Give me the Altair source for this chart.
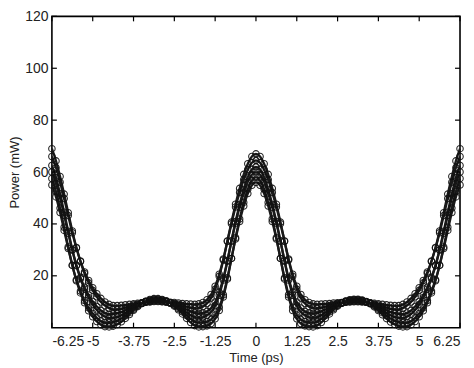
import altair as alt
import numpy as np
import pandas as pd

# sampling grid of the time axis (ps)
time_ps = np.linspace(-6.25, 6.25, 101)

x_ticks = [-6.25, -5, -3.75, -2.5, -1.25, 0, 1.25, 2.5, 3.75, 5, 6.25]
y_ticks = [20, 40, 60, 80, 100, 120]

# power traces (mW); left half x=-6.25..-0.125, right half x=0..6.25
A_left = [57.5, 52.5, 46.1, 38.7, 31.1, 24.1, 18.1, 13.4, 9.6, 6.5, 4.2, 2.4, 1.1, 0.4, 0.3,
          0.6, 1.2, 2.3, 3.6, 5.1, 6.7, 8.1, 9.3, 10.2, 10.9, 11.2, 11.2, 10.9, 10.4, 9.5, 8.3, 6.9, 5.3, 3.6, 2.0, 0.8,
          0.3, 0.4, 0.7, 1.6, 3.4, 6.6, 11.8, 18.7, 26.7, 34.7, 41.9, 48.3, 53.4, 56.8]
A_right = [58.0, 56.8, 53.4, 48.3, 41.9, 34.7, 26.7, 18.7, 11.8, 6.6, 3.4, 1.6, 0.7, 0.4, 0.3,
           0.8, 2.0, 3.6, 5.3, 6.9, 8.3, 9.4, 10.3, 10.8, 11.0, 11.0, 10.7, 10.1, 9.2, 8.0, 6.6, 5.0, 3.5, 2.2, 1.2, 0.6,
           0.3, 0.4, 1.1, 2.4, 4.2, 6.5, 9.6, 13.4, 18.1, 24.1, 31.1, 38.7, 46.1, 52.5, 57.5]

B_left = [55.0, 50.4, 44.4, 37.5, 30.5, 24.0, 18.5, 14.1, 10.5, 7.7, 5.5, 3.8, 2.6, 2.0, 1.9,
          2.2, 2.7, 3.5, 4.6, 5.8, 7.1, 8.3, 9.3, 10.1, 10.6, 10.9, 10.9, 10.7, 10.2, 9.5, 8.6, 7.4, 6.1, 4.7, 3.4, 2.4,
          2.0, 2.1, 2.4, 3.2, 4.9, 7.9, 12.7, 19.2, 26.7, 34.2, 40.9, 46.9, 51.7, 54.9]
B_right = [56.0, 54.9, 51.7, 46.9, 40.9, 34.2, 26.7, 19.2, 12.7, 7.9, 4.9, 3.2, 2.4, 2.1, 2.0,
           2.4, 3.4, 4.7, 6.1, 7.4, 8.6, 9.5, 10.2, 10.6, 10.8, 10.8, 10.5, 10.0, 9.3, 8.3, 7.1, 5.8, 4.6, 3.5, 2.7, 2.2,
           1.9, 2.0, 2.6, 3.8, 5.5, 7.7, 10.5, 14.1, 18.5, 24.0, 30.5, 37.5, 44.4, 50.4, 55.0]

C_left = [62.5, 57.8, 51.6, 44.5, 37.2, 30.1, 23.9, 18.9, 14.8, 11.6, 8.9, 6.8, 5.2, 4.2, 3.6,
          3.8, 4.1, 4.8, 5.6, 6.6, 7.6, 8.6, 9.4, 10.1, 10.5, 10.7, 10.7, 10.5, 10.1, 9.5, 8.8, 7.9, 6.9, 5.8, 4.8, 4.1,
          3.8, 4.0, 4.7, 6.0, 8.5, 12.5, 18.4, 25.6, 33.5, 40.9, 47.5, 53.3, 58.0, 61.0]
C_right = [62.0, 61.0, 58.0, 53.3, 47.5, 40.9, 33.5, 25.6, 18.4, 12.5, 8.5, 6.0, 4.7, 4.0, 3.8,
           4.1, 4.8, 5.8, 6.9, 7.9, 8.8, 9.5, 10.1, 10.4, 10.6, 10.6, 10.4, 10.0, 9.4, 8.6, 7.6, 6.6, 5.6, 4.8, 4.1, 3.8,
           3.6, 4.2, 5.2, 6.8, 8.9, 11.6, 14.8, 18.9, 23.9, 30.1, 37.2, 44.5, 51.6, 57.8, 62.5]

D_left = [60.0, 55.6, 49.9, 43.3, 36.4, 29.9, 24.1, 19.4, 15.6, 12.6, 10.1, 8.2, 6.7, 5.7, 5.2,
          5.3, 5.6, 6.0, 6.7, 7.4, 8.2, 8.8, 9.4, 9.9, 10.2, 10.5, 10.5, 10.3, 10.0, 9.6, 9.1, 8.5, 7.7, 7.0, 6.3, 5.7,
          5.5, 5.7, 6.3, 7.6, 9.9, 13.7, 19.1, 25.9, 33.3, 40.3, 46.4, 51.9, 56.2, 59.0]
D_right = [60.0, 59.0, 56.2, 51.9, 46.4, 40.3, 33.3, 25.9, 19.1, 13.7, 9.9, 7.6, 6.3, 5.7, 5.5,
           5.7, 6.3, 7.0, 7.7, 8.5, 9.1, 9.6, 10.0, 10.3, 10.4, 10.4, 10.2, 9.9, 9.4, 8.8, 8.2, 7.4, 6.7, 6.0, 5.6, 5.3,
           5.2, 5.7, 6.7, 8.2, 10.1, 12.6, 15.6, 19.4, 24.1, 29.9, 36.4, 43.3, 49.9, 55.6, 60.0]

E_left = [69.0, 64.3, 58.3, 51.5, 44.3, 37.3, 30.9, 25.5, 20.9, 17.3, 14.4, 11.9, 9.9, 8.5, 7.5,
          6.9, 7.0, 7.3, 7.7, 8.2, 8.7, 9.1, 9.5, 9.9, 10.1, 10.3, 10.3, 10.1, 9.9, 9.6, 9.3, 9.0, 8.5, 8.1, 7.7, 7.4,
          7.5, 8.1, 9.3, 11.4, 14.8, 19.8, 26.1, 33.4, 40.7, 47.6, 53.7, 59.1, 63.2, 66.0]
E_right = [67.0, 66.0, 63.2, 59.1, 53.7, 47.6, 40.7, 33.4, 26.1, 19.8, 14.8, 11.4, 9.3, 8.1, 7.5,
           7.4, 7.7, 8.1, 8.5, 9.0, 9.3, 9.6, 9.9, 10.1, 10.2, 10.2, 10.1, 9.9, 9.5, 9.1, 8.7, 8.2, 7.7, 7.3, 7.0, 6.9,
           7.5, 8.5, 9.9, 11.9, 14.4, 17.3, 20.9, 25.5, 30.9, 37.3, 44.3, 51.5, 58.3, 64.3, 69.0]

F_left = [66.0, 61.7, 56.1, 49.8, 43.2, 36.6, 30.7, 25.7, 21.5, 18.2, 15.4, 13.1, 11.3, 9.9, 9.0,
          8.5, 8.5, 8.6, 8.8, 9.0, 9.2, 9.4, 9.6, 9.8, 9.9, 10.1, 10.1, 10.0, 9.9, 9.8, 9.7, 9.5, 9.3, 9.2, 9.1, 9.0,
          9.2, 9.7, 10.8, 12.8, 16.0, 20.6, 26.5, 33.3, 40.1, 46.5, 52.1, 57.1, 61.0, 63.6]
F_right = [64.5, 63.6, 61.0, 57.1, 52.1, 46.5, 40.1, 33.3, 26.5, 20.6, 16.0, 12.8, 10.8, 9.7, 9.2,
           9.0, 9.1, 9.2, 9.3, 9.5, 9.6, 9.7, 9.8, 9.9, 10.0, 10.0, 9.9, 9.8, 9.6, 9.4, 9.2, 9.0, 8.8, 8.6, 8.5, 8.5,
           9.0, 9.9, 11.3, 13.1, 15.4, 18.2, 21.5, 25.7, 30.7, 36.6, 43.2, 49.8, 56.1, 61.7, 66.0]

traces = {
    "A": A_left + A_right,
    "B": B_left + B_right,
    "C": C_left + C_right,
    "D": D_left + D_right,
    "E": E_left + E_right,
    "F": F_left + F_right,
}

rows = []
for name, vals in traces.items():
    for t, p in zip(time_ps, vals):
        rows.append({"trace": name, "t": float(t), "p": p})
df = pd.DataFrame(rows)

W, H = 409, 312
xs = alt.Scale(domain=[-6.25, 6.25], nice=False, zero=False)
ys = alt.Scale(domain=[0, 120], nice=False, zero=False)

x_enc = alt.X("t:Q", scale=xs, title="Time (ps)",
              axis=alt.Axis(values=x_ticks, labelExpr="'' + datum.value", tickSize=0,
                            domain=False, grid=False, labelPadding=7, titlePadding=3))
y_enc = alt.Y("p:Q", scale=ys, title="Power (mW)",
              axis=alt.Axis(values=y_ticks, tickSize=0, domain=False, grid=False,
                            labelPadding=4, titlePadding=3))

lines = alt.Chart(df).mark_line(color="#1a1a1a", strokeWidth=2.3, interpolate="monotone").encode(
    x=x_enc, y=y_enc, detail="trace:N")
points = alt.Chart(df).mark_point(shape="circle", filled=False, color="#111", size=42,
                                  strokeWidth=1.1, opacity=0.9).encode(
    x=alt.X("t:Q", scale=xs), y=alt.Y("p:Q", scale=ys), detail="trace:N")

xt = pd.DataFrame({"v": x_ticks})
yt = pd.DataFrame({"v": y_ticks})
tick_style = dict(color="#000", strokeWidth=1.2)
bottom_ticks = alt.Chart(xt).mark_rule(**tick_style).encode(
    x=alt.X("v:Q", scale=xs), y=alt.value(H), y2=alt.value(H - 5))
top_ticks = alt.Chart(xt).mark_rule(**tick_style).encode(
    x=alt.X("v:Q", scale=xs), y=alt.value(0), y2=alt.value(5))
left_ticks = alt.Chart(yt).mark_rule(**tick_style).encode(
    y=alt.Y("v:Q", scale=ys), x=alt.value(0), x2=alt.value(5))
right_ticks = alt.Chart(yt).mark_rule(**tick_style).encode(
    y=alt.Y("v:Q", scale=ys), x=alt.value(W), x2=alt.value(W - 5))

chart = alt.layer(lines, points, bottom_ticks, top_ticks, left_ticks, right_ticks).properties(
    width=W, height=H, autosize="none",
    padding={"left": 44, "top": 8, "right": 6, "bottom": 40},
).configure_view(stroke="#000", strokeWidth=1.6).configure_axis(
    labelFont="Liberation Sans", titleFont="Liberation Sans", labelFontSize=14,
    titleFontSize=13, titleFontWeight="normal", labelColor="#222", titleColor="#222",
)

chart.save("out.html", embed_options={"renderer": "svg", "actions": False})
